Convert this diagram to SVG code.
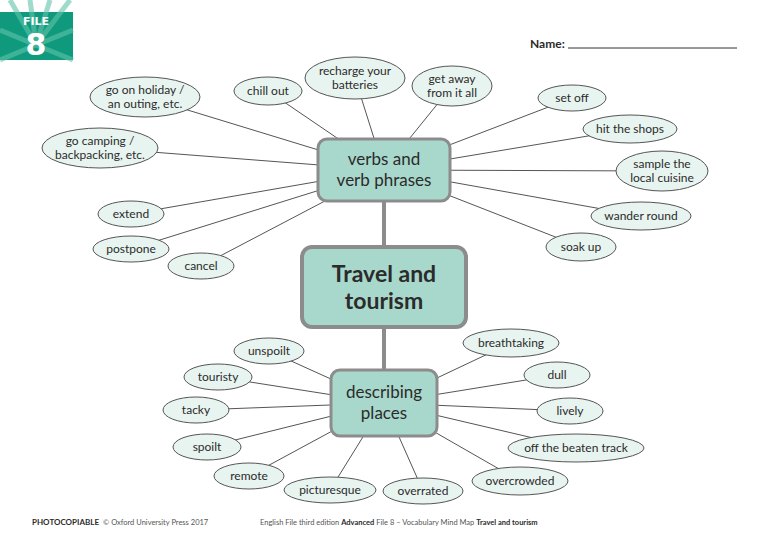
<svg xmlns="http://www.w3.org/2000/svg" width="768" height="543" viewBox="0 0 768 543">
<style>
text{font-family:Lato,"Open Sans",sans-serif;fill:#2b2b2b;text-anchor:middle}
.e ellipse{fill:#e8f4f0;stroke:#555;stroke-width:1}
.e text{font-size:12px}
.b rect{fill:#a8d8cb;stroke:#8c8c8c;stroke-width:3}
#conn line{stroke:#555;stroke-width:1}
#conn line.t{stroke:#8c8c8c;stroke-width:4}
</style>
<rect width="768" height="543" fill="#fff"/>
<g id="logo">
<rect x="0" y="12" width="73" height="48" fill="#0f9a7e"/>
<g stroke="#5fc4a8" stroke-width="5" opacity="0.6">
<line x1="36" y1="45" x2="10" y2="0"/><line x1="36" y1="45" x2="30" y2="0"/><line x1="36" y1="45" x2="50" y2="0"/><line x1="36" y1="45" x2="70" y2="0"/><line x1="36" y1="45" x2="0" y2="30"/><line x1="36" y1="45" x2="73" y2="30"/><line x1="36" y1="45" x2="0" y2="60"/><line x1="36" y1="45" x2="73" y2="60"/>
</g>
<text x="36" y="25" style="font-family:'DejaVu Sans',sans-serif;font-weight:bold;font-size:11px;fill:#fff">FILE</text>
<text x="36" y="55" style="font-family:'DejaVu Sans',sans-serif;font-weight:bold;font-size:30px;fill:#fff">8</text>
</g>
<text x="530" y="48" style="font-size:12px;font-weight:bold;text-anchor:start">Name:</text>
<line x1="568" y1="48" x2="737" y2="48" stroke="#333" stroke-width="1"/>
<g id="conn">
<line class="t" x1="384" y1="200" x2="384" y2="248"/>
<line class="t" x1="384" y1="326" x2="384" y2="371"/>
<line x1="384" y1="170" x2="145" y2="97"/><line x1="384" y1="170" x2="268" y2="91"/><line x1="384" y1="170" x2="355" y2="78"/><line x1="384" y1="170" x2="452" y2="86"/><line x1="384" y1="170" x2="572" y2="98"/><line x1="384" y1="170" x2="630" y2="129"/><line x1="384" y1="170" x2="662" y2="171"/><line x1="384" y1="170" x2="641" y2="216"/><line x1="384" y1="170" x2="581" y2="247"/><line x1="384" y1="170" x2="100" y2="148"/><line x1="384" y1="170" x2="131" y2="214"/><line x1="384" y1="170" x2="131" y2="249"/><line x1="384" y1="170" x2="201" y2="266"/>
<line x1="384" y1="403" x2="269" y2="351"/><line x1="384" y1="403" x2="218" y2="377"/><line x1="384" y1="403" x2="196" y2="410"/><line x1="384" y1="403" x2="207" y2="447"/><line x1="384" y1="403" x2="249" y2="476"/><line x1="384" y1="403" x2="330" y2="490"/><line x1="384" y1="403" x2="423" y2="491"/><line x1="384" y1="403" x2="520" y2="481"/><line x1="384" y1="403" x2="511" y2="343"/><line x1="384" y1="403" x2="557" y2="375"/><line x1="384" y1="403" x2="570" y2="411"/><line x1="384" y1="403" x2="576" y2="448"/>
</g>
<g id="verbs" class="b"><rect x="318" y="139" width="132" height="62" rx="9"/><text x="384" y="165" style="font-size:17px">verbs and</text><text x="384" y="186" style="font-size:17px">verb phrases</text></g>
<g id="travel" class="b"><rect x="302" y="247" width="164" height="80" rx="10" style="stroke-width:4"/><text x="384" y="282" style="font-size:23px;font-weight:bold">Travel and</text><text x="384" y="309" style="font-size:23px;font-weight:bold">tourism</text></g>
<g id="describing" class="b"><rect x="331" y="370" width="106" height="66" rx="9"/><text x="384" y="398" style="font-size:17px">describing</text><text x="384" y="419" style="font-size:17px">places</text></g>
<g id="n1" class="e"><ellipse cx="145" cy="97" rx="55" ry="20"/><text x="145" y="94">go on holiday /</text><text x="145" y="108">an outing, etc.</text></g>
<g id="n2" class="e"><ellipse cx="268" cy="91" rx="34" ry="14"/><text x="268" y="95">chill out</text></g>
<g id="n3" class="e"><ellipse cx="355" cy="78" rx="50" ry="21"/><text x="355" y="75">recharge your</text><text x="355" y="89">batteries</text></g>
<g id="n4" class="e"><ellipse cx="452" cy="86" rx="40" ry="20"/><text x="452" y="83">get away</text><text x="452" y="97">from it all</text></g>
<g id="n5" class="e"><ellipse cx="572" cy="98" rx="34" ry="13"/><text x="572" y="102">set off</text></g>
<g id="n6" class="e"><ellipse cx="630" cy="129" rx="47" ry="14"/><text x="630" y="133">hit the shops</text></g>
<g id="n7" class="e"><ellipse cx="662" cy="171" rx="46" ry="20"/><text x="662" y="168">sample the</text><text x="662" y="182">local cuisine</text></g>
<g id="n8" class="e"><ellipse cx="641" cy="216" rx="50" ry="14"/><text x="641" y="220">wander round</text></g>
<g id="n9" class="e"><ellipse cx="581" cy="247" rx="35" ry="14"/><text x="581" y="251">soak up</text></g>
<g id="n10" class="e"><ellipse cx="100" cy="148" rx="58" ry="20"/><text x="100" y="145">go camping /</text><text x="100" y="159">backpacking, etc.</text></g>
<g id="n11" class="e"><ellipse cx="131" cy="214" rx="33" ry="13"/><text x="131" y="218">extend</text></g>
<g id="n12" class="e"><ellipse cx="131" cy="249" rx="38" ry="13"/><text x="131" y="253">postpone</text></g>
<g id="n13" class="e"><ellipse cx="201" cy="266" rx="33" ry="13"/><text x="201" y="270">cancel</text></g>
<g id="n14" class="e"><ellipse cx="269" cy="351" rx="35" ry="13"/><text x="269" y="355">unspoilt</text></g>
<g id="n15" class="e"><ellipse cx="218" cy="377" rx="34" ry="13"/><text x="218" y="381">touristy</text></g>
<g id="n16" class="e"><ellipse cx="196" cy="410" rx="33" ry="13"/><text x="196" y="414">tacky</text></g>
<g id="n17" class="e"><ellipse cx="207" cy="447" rx="34" ry="13"/><text x="207" y="451">spoilt</text></g>
<g id="n18" class="e"><ellipse cx="249" cy="476" rx="35" ry="13"/><text x="249" y="480">remote</text></g>
<g id="n19" class="e"><ellipse cx="330" cy="490" rx="46" ry="13"/><text x="330" y="494">picturesque</text></g>
<g id="n20" class="e"><ellipse cx="423" cy="491" rx="40" ry="13"/><text x="423" y="495">overrated</text></g>
<g id="n21" class="e"><ellipse cx="520" cy="481" rx="48" ry="14"/><text x="520" y="485">overcrowded</text></g>
<g id="n22" class="e"><ellipse cx="511" cy="343" rx="48" ry="14"/><text x="511" y="347">breathtaking</text></g>
<g id="n23" class="e"><ellipse cx="557" cy="375" rx="33" ry="13"/><text x="557" y="379">dull</text></g>
<g id="n24" class="e"><ellipse cx="570" cy="411" rx="33" ry="13"/><text x="570" y="415">lively</text></g>
<g id="n25" class="e"><ellipse cx="576" cy="448" rx="68" ry="14"/><text x="576" y="452">off the beaten track</text></g>
<g id="footer" style="font-size:8px">
<text x="32" y="525" style="text-anchor:start;font-size:8px;font-weight:bold">PHOTOCOPIABLE</text>
<text x="103" y="525" style="text-anchor:start;font-size:7.5px;fill:#555">© Oxford University Press 2017</text>
<text x="260" y="525" style="text-anchor:start;font-size:7.5px;fill:#555">English File third edition <tspan style="font-weight:bold;fill:#2b2b2b">Advanced</tspan>  File 8 – Vocabulary Mind Map <tspan style="font-weight:bold;fill:#2b2b2b">Travel and tourism</tspan></text>
</g>
</svg>
